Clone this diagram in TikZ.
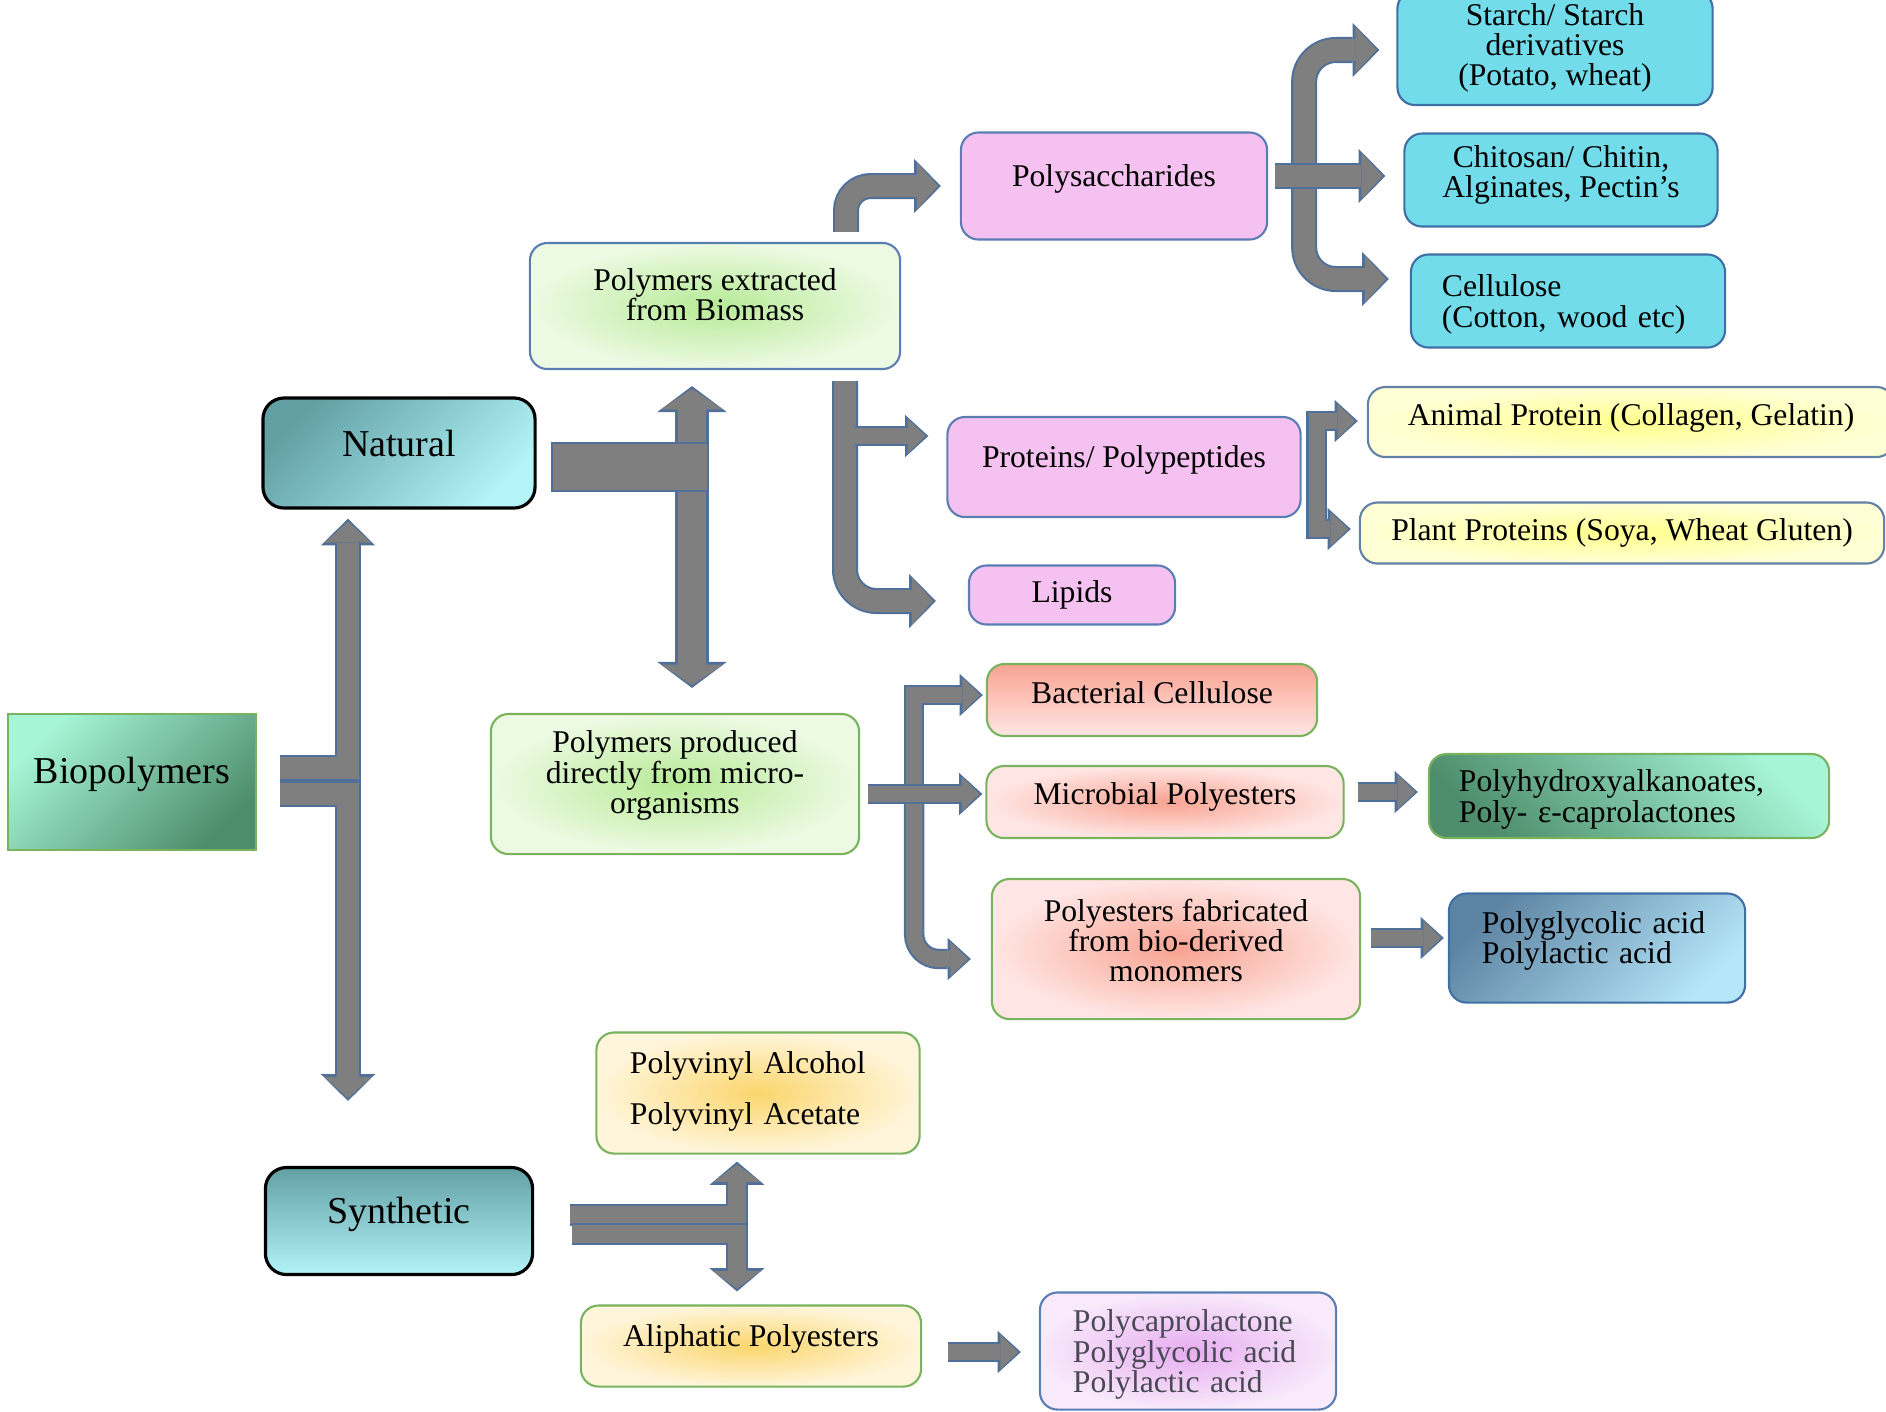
\documentclass[tikz,border=0pt]{standalone}
\usepackage{fontspec}
\setmainfont{Liberation Serif}
\usetikzlibrary{arrows.meta}
\usetikzlibrary{calc}

\definecolor{arrowgray}{HTML}{7F7F7F}
\definecolor{arrowrim}{HTML}{50709A}
\definecolor{mintlight}{HTML}{A6F5D6}
\definecolor{mintdark}{HTML}{4E8E6C}
\definecolor{greenrim}{HTML}{79B35E}
\definecolor{tealdark}{HTML}{62A0A4}
\definecolor{teallight}{HTML}{B2F4F8}
\definecolor{leafin}{HTML}{B6EA96}
\definecolor{leafout}{HTML}{EDFAE3}
\definecolor{bluerim}{HTML}{5A7DB2}
\definecolor{slaterim}{HTML}{6281A6}
\definecolor{pinkfill}{HTML}{F5C1F0}
\definecolor{cyanfill}{HTML}{72DCEB}
\definecolor{cyanrim}{HTML}{3F6FA4}
\definecolor{lemonin}{HTML}{FFFF8C}
\definecolor{lemonout}{HTML}{FFFFD6}
\definecolor{salmonin}{HTML}{F8A391}
\definecolor{salmonout}{HTML}{FFE6E4}
\definecolor{skydark}{HTML}{5D84A3}
\definecolor{skylight}{HTML}{B5E6F9}
\definecolor{amberin}{HTML}{FBD66E}
\definecolor{amberout}{HTML}{FFF5DA}
\definecolor{lilacin}{HTML}{E7ADF1}
\definecolor{lilacout}{HTML}{F8E9FB}
\definecolor{inkgray}{HTML}{4A4A55}

\newcommand\boxfont{\fontsize{9}{8.6}\selectfont}
\newcommand\bigboxfont{\fontsize{10.8}{12}\selectfont}

\tikzset{
	box/.style={draw, rounded corners=5pt, line width=0.6pt, align=center, inner sep=2pt, font=\boxfont},
	bigbox/.style={box, draw=black, line width=0.9pt, rounded corners=6pt, font=\bigboxfont},
	leafbox/.style={box, inner color=leafin, outer color=leafout},
	pinkbox/.style={box, draw=bluerim, fill=pinkfill},
	cyanbox/.style={box, draw=cyanrim, fill=cyanfill},
	lemonbox/.style={box, draw=slaterim, inner color=lemonin, outer color=lemonout},
	salmonbox/.style={box, draw=greenrim, inner color=salmonin, outer color=salmonout},
	amberbox/.style={box, draw=greenrim, inner color=amberin, outer color=amberout},
	bighead/.tip={Triangle[width=17.6pt, length=5.8pt, line width=0pt]},
	bigrim/.tip={Triangle[width=19.8pt, length=7.4pt, line width=0pt]},
	midhead/.tip={Triangle[width=13.2pt, length=6pt, line width=0pt]},
	midrim/.tip={Triangle[width=15.4pt, length=7.6pt, line width=0pt]},
	teehead/.tip={Triangle[width=13.4pt, length=5pt, line width=0pt]},
	teerim/.tip={Triangle[width=15.6pt, length=6.6pt, line width=0pt]},
	smallhead/.tip={Triangle[width=9.8pt, length=5pt, line width=0pt]},
	smallrim/.tip={Triangle[width=12pt, length=6.6pt, line width=0pt]},
	fatbig/.style={draw=arrowgray, line width=8.2pt, {bighead}-{bighead}, shorten >=0.8pt, shorten <=0.8pt,
		preaction={draw=arrowrim, line width=9.4pt, {bigrim}-{bigrim}, shorten >=0pt, shorten <=0pt}},
	fatmid/.style={draw=arrowgray, line width=6.2pt, -{midhead}, shorten >=0.8pt,
		preaction={draw=arrowrim, line width=7.4pt, -{midrim}, shorten >=0pt}},
	fattee/.style={draw=arrowgray, line width=5pt, -{teehead}, shorten >=0.8pt,
		preaction={draw=arrowrim, line width=6.2pt, -{teerim}, shorten >=0pt}},
	fatsmall/.style={draw=arrowgray, line width=4.6pt, -{smallhead}, shorten >=0.8pt,
		preaction={draw=arrowrim, line width=5.8pt, -{smallrim}, shorten >=0pt}},
	slab/.style={fill=arrowgray, draw=arrowrim, line width=0.6pt},
}

\begin{document}
\begin{tikzpicture}[x=0.01cm, y=-0.01cm]

	\fill[white] (0,0) rectangle (1886,1411);
	\useasboundingbox (0,0) rectangle (1886,1411);

	\node[box, draw=greenrim, sharp corners, top color=mintlight, bottom color=mintdark, shading angle=45, font=\bigboxfont, minimum width=2.47cm, minimum height=1.36cm, text depth=6.6pt] (bio) at (132,782) {Biopolymers};
	\node[bigbox, top color=tealdark, bottom color=teallight, shading angle=45, minimum width=2.72cm, minimum height=1.10cm, text depth=5.7pt] (nat) at (399,453) {Natural};
	\node[bigbox, top color=tealdark, bottom color=teallight, minimum width=2.67cm, minimum height=1.07cm, text depth=6pt] (syn) at (399,1221) {Synthetic};

	\node[leafbox, draw=bluerim, minimum width=3.70cm, minimum height=1.26cm, text depth=6.4pt] (ext) at (715,306) {Polymers extracted\\from Biomass};
	\node[leafbox, draw=greenrim, minimum width=3.68cm, minimum height=1.40cm, text depth=6.8pt] (prod) at (675,784) {Polymers produced\\directly from micro-\\organisms};

	\node[pinkbox, minimum width=3.06cm, minimum height=1.07cm, text depth=5.7pt] (psac) at (1114,186) {Polysaccharides};
	\node[pinkbox, minimum width=3.53cm, minimum height=1.00cm, text depth=5.7pt] (prot) at (1124,467) {Proteins/ Polypeptides};
	\node[pinkbox, minimum width=2.06cm, minimum height=0.59cm] (lip) at (1072,595) {Lipids};

	\node[cyanbox, minimum width=3.15cm, minimum height=1.14cm] (starch) at (1555,48) {Starch/ Starch\\derivatives\\(Potato, wheat)};
	\node[cyanbox, minimum width=3.13cm, minimum height=0.93cm, text depth=4.7pt] (chit) at (1561,180) {Chitosan/ Chitin,\\Alginates, Pectin’s};
	\node[cyanbox, minimum width=3.14cm, minimum height=0.93cm, text width=2.52cm, align=left, text depth=8.6pt] (cell) at (1568,301) {Cellulose\\(Cotton, wood etc)};

	\node[lemonbox, minimum width=5.26cm, minimum height=0.70cm, text depth=4pt] (anim) at (1631,422) {Animal Protein (Collagen, Gelatin)};
	\node[lemonbox, minimum width=5.24cm, minimum height=0.61cm] (plant) at (1622,533) {Plant Proteins (Soya, Wheat Gluten)};

	\node[salmonbox, top color=salmonin, bottom color=salmonout, minimum width=3.30cm, minimum height=0.72cm, text depth=4pt] (bcell) at (1152,700) {Bacterial Cellulose};
	\node[salmonbox, minimum width=3.57cm, minimum height=0.72cm, text depth=4.6pt] (mpoly) at (1165,802) {Microbial Polyesters};
	\node[salmonbox, minimum width=3.68cm, minimum height=1.40cm, text depth=4.8pt] (pfab) at (1176,949) {Polyesters fabricated\\from bio-derived\\monomers};

	\node[box, draw=greenrim, top color=mintlight, bottom color=mintdark, shading angle=-45, minimum width=4.00cm, minimum height=0.84cm, text width=3.4cm, align=left, text depth=8.6pt] (pha) at (1629,796) {Polyhydroxyalkanoates,\\Poly- ε-caprolactones};
	\node[box, draw=cyanrim, top color=skydark, bottom color=skylight, shading angle=45, minimum width=2.96cm, minimum height=1.09cm, text width=2.30cm, align=left, text depth=14.4pt] (pga) at (1597,948) {Polyglycolic acid\\Polylactic acid};

	\node[amberbox, minimum width=3.23cm, minimum height=1.21cm, text width=2.56cm, align=left, text depth=17.5pt] (pva) at (758,1093) {Polyvinyl Alcohol\\[6.1pt]Polyvinyl Acetate};
	\node[amberbox, minimum width=3.40cm, minimum height=0.81cm, text depth=6.2pt] (alip) at (751,1346) {Aliphatic Polyesters};
	\node[box, draw=bluerim, inner color=lilacin, outer color=lilacout, text=inkgray, minimum width=2.96cm, minimum height=1.17cm, text width=2.30cm, align=left, text depth=17.2pt] (pcl) at (1188,1351) {Polycaprolactone\\Polyglycolic acid\\Polylactic acid};

	\draw[fatmid] ($(bio.east)+(23,-14)$) -| ($(nat.south)+(-51,9)$);
	\draw[fatmid] ($(bio.east)+(23,12)$) -| ($(syn.north)+(-51,-65)$);

	\draw[fatbig] ($(prod.north)+(17,-25)$) -- ($(ext.south)+(-23,16)$);
	\draw[slab] ($(nat.east)+(15,-10)$) rectangle ($(nat.east)+(171,38)$);

	\draw[fatmid, rounded corners=7pt] ($(ext.north)+(131,-10)$) |- ($(psac.west)+(-19,0)$);
	\draw[fatmid, rounded corners=9pt] ($(ext.south)+(130,11)$) |- ($(lip.west)+(-32,6)$);
	\draw[fatsmall] ($(prot.west)+(-91,-31)$) -- ($(prot.west)+(-18,-31)$);

	\draw[fatmid, rounded corners=9pt] ($(psac.east)+(36,-10)$) |- ($(starch.west)+(-17,2)$);
	\draw[fatmid, rounded corners=9pt] ($(psac.east)+(36,-10)$) |- ($(cell.west)+(-21,-22)$);
	\draw[fatmid] ($(psac.east)+(7,-10)$) -- ($(chit.west)+(-18,-4)$);

	\draw[fatsmall] ($(prot.east)+(15,0)$) |- ($(anim.west)+(-9,-1)$);
	\draw[fatsmall] ($(prot.east)+(15,0)$) |- ($(plant.west)+(-8,-4)$);

	\draw[fatsmall] ($(prod.east)+(54,10)$) |- ($(bcell.west)+(-3,-5)$);
	\draw[fatsmall, rounded corners=7pt] ($(prod.east)+(54,10)$) |- ($(pfab.west)+(-20,10)$);
	\draw[fatsmall] ($(prod.east)+(8,10)$) -- ($(mpoly.west)+(-3,-8)$);

	\draw[fatsmall] ($(mpoly.east)+(13,-10)$) -- ($(pha.west)+(-10,-4)$);
	\draw[fatsmall] ($(pfab.east)+(10,-11)$) -- ($(pga.west)+(-4,-10)$);

	\draw[fattee] ($(syn.east)+(36,-6)$) -| ($(pva.south)+(-21,7)$);
	\draw[fattee] ($(syn.east)+(38,13)$) -| ($(alip.north)+(-14,-13)$);
	\draw[fatsmall] ($(alip.east)+(26,6)$) -- ($(pcl.west)+(-18,1)$);

\end{tikzpicture}
\end{document}
